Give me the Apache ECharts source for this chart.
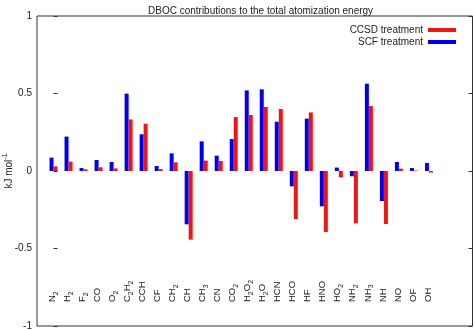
<!DOCTYPE html>
<html><head><meta charset="utf-8">
<script src="https://cdn.jsdelivr.net/npm/echarts@6/dist/echarts.min.js"></script>
<style>html,body{margin:0;padding:0;background:#fff}#c{width:474px;height:330px}</style>
</head><body><div id="c"></div>
<script>
const categories = ["N2","H2","F2","CO","O2","C2H2","CCH","CF","CH2","CH","CH3","CN","CO2","H2O2","H2O","HCN","HCO","HF","HNO","HO2","NH2","NH3","NH","NO","OF","OH"];
const scf  = [0.086,0.222,0.019,0.071,0.058,0.499,0.237,0.032,0.114,-0.344,0.191,0.099,0.206,0.520,0.527,0.318,-0.099,0.338,-0.228,0.022,-0.034,0.563,-0.194,0.058,0.019,0.052];
const ccsd = [0.030,0.060,0.011,0.024,0.017,0.333,0.305,0.013,0.056,-0.443,0.067,0.065,0.348,0.361,0.413,0.400,-0.310,0.378,-0.394,-0.041,-0.338,0.419,-0.342,0.015,0.003,-0.010];
const yTicks = [-1,-0.5,0,0.5,1];

const FONT = '"Liberation Sans", Arial, Helvetica, sans-serif';
const idx = categories.map((c,i)=>i);
function fmtName(s){
  return s.replace(/([A-Z]+)/g,'{n|$1}').replace(/(\d+)/g,'{s|$1}');
}
const chart = echarts.init(document.getElementById('c'), null, {renderer:'canvas'});
chart.setOption({
  animation:false,
  backgroundColor:'#fff',
  textStyle:{fontFamily:FONT},
  title:{text:'DBOC contributions to the total atomization energy', left:143, top:1,
    textStyle:{fontSize:10, fontWeight:'normal', color:'#222', fontFamily:FONT}},
  legend:{orient:'vertical', right:13, top:19, align:'right', itemWidth:28, itemHeight:4, itemGap:0,
    icon:'rect', data:['CCSD treatment','SCF treatment'],
    textStyle:{fontSize:10, color:'#222', lineHeight:12, fontFamily:FONT}},
  grid:{left:37, right:1.5, top:16, bottom:4, show:true, borderColor:'#333', borderWidth:1,
    containLabel:false, outerBoundsMode:'none'},
  xAxis:{type:'value', min:-1.1, max:27.9, splitLine:{show:false}, axisLine:{show:false}, axisTick:{show:false},
    axisLabel:{customValues:idx, inside:true, rotate:90, margin:24, color:'#222',
      formatter:(v)=>{const c=categories[Math.round(v)]; return c?fmtName(c):'';},
      rich:{n:{fontSize:9.5, lineHeight:12, verticalAlign:'top', color:'#222', fontFamily:FONT},
            s:{fontSize:7, lineHeight:12, verticalAlign:'bottom', color:'#222', fontFamily:FONT}}}},
  yAxis:[
    {type:'value', min:-1, max:1, interval:0.5, position:'left', splitLine:{show:false}, axisLine:{show:false},
     axisTick:{show:true, inside:true, length:4, lineStyle:{color:'#333'}},
     axisLabel:{fontSize:10, color:'#222', margin:5, fontFamily:FONT},
     name:'{n|kJ mol}{p|-1}', nameLocation:'middle', nameGap:23, nameMoveOverlap:false,
     nameTextStyle:{rich:{n:{fontSize:10, lineHeight:12, verticalAlign:'bottom', color:'#222', fontFamily:FONT},
                          p:{fontSize:7, lineHeight:12, verticalAlign:'top', color:'#222', fontFamily:FONT}}}},
    {type:'value', min:-1, max:1, interval:0.5, position:'right', splitLine:{show:false}, axisLine:{show:false},
     axisTick:{show:true, inside:true, length:4, lineStyle:{color:'#333'}}, axisLabel:{show:false}}
  ],
  series:[
    {name:'SCF treatment', type:'bar', barWidth:4, barGap:'0%', itemStyle:{color:'#0000ee'},
     data:idx.map(i=>[i, scf[i]])},
    {name:'CCSD treatment', type:'bar', barWidth:4, barGap:'0%', itemStyle:{color:'#f01515'},
     data:idx.map(i=>[i, ccsd[i]])}
  ]
});
</script></body></html>
